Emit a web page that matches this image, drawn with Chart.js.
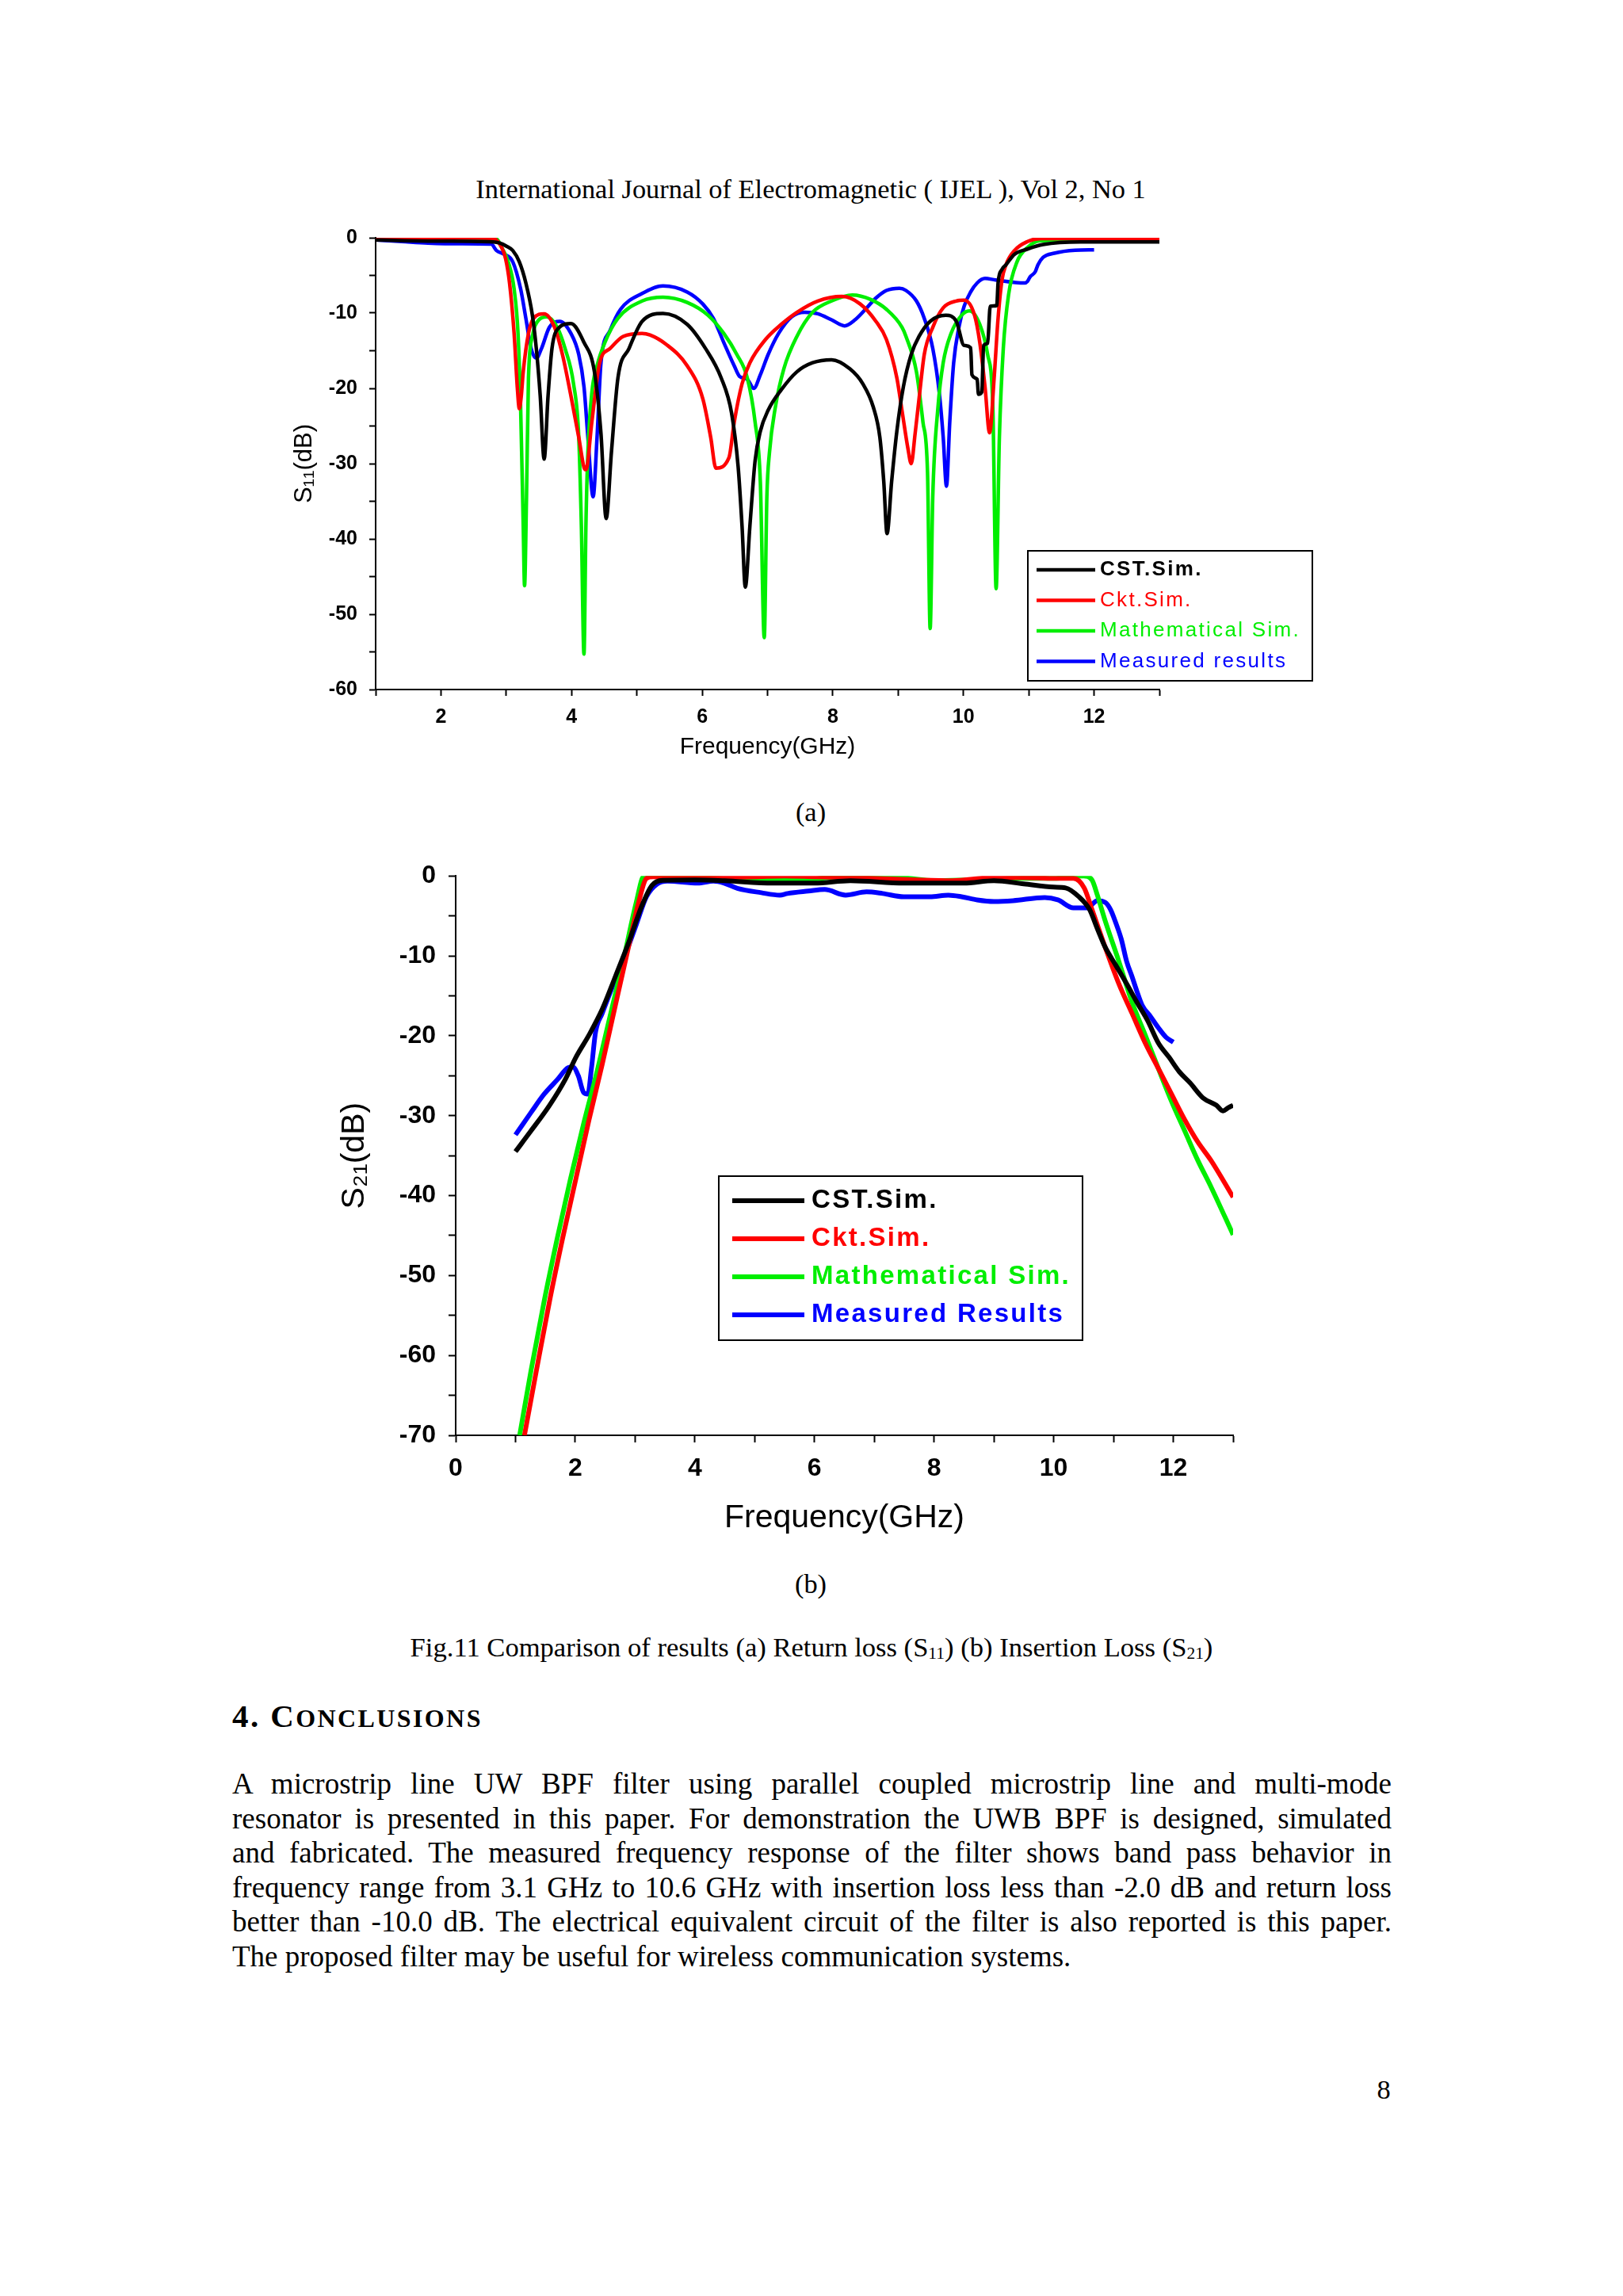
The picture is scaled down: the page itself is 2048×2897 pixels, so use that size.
<!DOCTYPE html>
<html>
<head>
<meta charset="utf-8">
<title>Fig.11 Comparison of results</title>
<script src="https://cdn.jsdelivr.net/npm/chart.js@4.4.1/dist/chart.umd.min.js"></script>
<style>
  html, body { margin: 0; padding: 0; background: #fff; }
  #page { position: relative; width: 2048px; height: 2897px; background: #fff; overflow: hidden; }
  .txt { position: absolute; font-family: 'Liberation Serif', 'Times New Roman', serif; color: #000; white-space: nowrap; line-height: 1; }
  .ctr { transform: translateX(-50%); }
  .line { position: absolute; left: 293px; width: 1463px; font-family: 'Liberation Serif', 'Times New Roman', serif;
          font-size: 37px; line-height: 1; color: #000; text-align: justify; text-align-last: justify; }
  .last { text-align-last: left; }
  .sub { font-size: 0.62em; vertical-align: -0.12em; }
  .plot { position: absolute; }
</style>
</head>
<body>
<div id="page">
  <div class="txt ctr" style="left:1023px; top:221px; font-size:34.4px;">International Journal of Electromagnetic ( IJEL ), Vol 2, No 1</div>

  <div class="plot" style="left:340px; top:270px; width:1340px; height:720px;">
    <canvas id="s11" width="1340" height="720" style="width:1340px; height:720px;"></canvas>
  </div>
  <div class="txt ctr" style="left:1023px; top:1007px; font-size:34.4px;">(a)</div>

  <div class="plot" style="left:400px; top:1070px; width:1200px; height:900px;">
    <canvas id="s21" width="1200" height="900" style="width:1200px; height:900px;"></canvas>
  </div>
  <div class="txt ctr" style="left:1023px; top:1981px; font-size:34.4px;">(b)</div>

  <div class="txt ctr" style="left:1024px; top:2061px; font-size:34.6px;">Fig.11 Comparison of results (a) Return loss (S<span class="sub">11</span>) (b) Insertion Loss (S<span class="sub">21</span>)</div>

  <div class="txt" style="left:293px; top:2145px; font-size:41px; font-weight:bold; letter-spacing:2.4px;">4. C<span style="font-size:32px;">ONCLUSIONS</span></div>

  <div class="line" style="top:2232px;">A microstrip line UW BPF filter using parallel coupled microstrip line and multi-mode</div>
  <div class="line" style="top:2276px;">resonator is presented in this paper. For demonstration the UWB BPF is designed, simulated</div>
  <div class="line" style="top:2319px;">and fabricated. The measured frequency response of the filter shows band pass behavior in</div>
  <div class="line" style="top:2363px;">frequency range from 3.1 GHz to 10.6 GHz with insertion loss less than -2.0 dB and return loss</div>
  <div class="line" style="top:2406px;">better than -10.0 dB. The electrical equivalent circuit of the filter is also reported is this paper.</div>
  <div class="line last" style="top:2450px;">The proposed filter may be useful for wireless communication systems.</div>

  <div class="txt ctr" style="left:1746px; top:2619px; font-size:34.4px;">8</div>
</div>

<script>
// ---- (a) Return loss S11 : frequency (GHz) / level (dB) ----
const s11CstFreq = [1, 2, 2.8, 2.9, 3.0, 3.1, 3.2, 3.3, 3.4, 3.46, 3.52, 3.58, 3.64, 3.7, 3.8, 3.99, 4.19, 4.35, 4.45, 4.53,
  4.61, 4.71, 4.88, 5.08, 5.4, 5.77, 6.05, 6.29, 6.45, 6.55, 6.61, 6.66, 6.73, 6.81, 6.89, 7.01, 7.21, 7.45, 7.69, 7.98,
  8.26, 8.46, 8.62, 8.72, 8.78, 8.83, 8.9, 8.98, 9.08, 9.2, 9.32, 9.49, 9.73, 9.89, 10.01, 10.11, 10.13, 10.21, 10.23,
  10.28, 10.31, 10.37, 10.41, 10.51, 10.53, 10.59, 10.65, 10.78, 10.98, 11.22, 11.79, 13];
const s11CstDb = [-0.3, -0.45, -0.55, -0.7, -1.1, -1.7, -3.2, -6, -10.3, -14.7, -21, -29.4, -21, -14.7, -12, -11.4, -13.9, -17.8, -26, -37.3,
  -28.5, -18.6, -14.7, -11.1, -10.05, -11.5, -14.7, -18.6, -23.3, -30.4, -38.3, -46.4, -38.3, -29.6, -25.7, -22.9, -20.2, -17.8, -16.6, -16.2,
  -17.4, -19.4, -22.5, -26.5, -32.4, -39.3, -32.4, -25.7, -19.8, -15.5, -13.1, -11.1, -10.3, -11.1, -14.3, -14.6, -18.2, -18.8, -20.8,
  -20.5, -14.3, -14.0, -9.1, -9.0, -6, -4.2, -3.6, -2.2, -1.5, -0.9, -0.55, -0.55];

const s11CktFreq = [1, 2, 2.8, 2.93, 2.99, 3.05, 3.12, 3.17, 3.2, 3.23, 3.26, 3.34, 3.42, 3.58, 3.74, 3.86, 3.99, 4.11, 4.19, 4.22,
  4.31, 4.43, 4.59, 4.79, 5.08, 5.2, 5.44, 5.77, 6.01, 6.13, 6.21, 6.41, 6.49, 6.61, 6.73, 6.97, 7.21, 7.45, 7.77, 8.14,
  8.42, 8.66, 8.82, 8.98, 9.06, 9.15, 9.2, 9.26, 9.32, 9.4, 9.53, 9.69, 9.89, 10.01, 10.17, 10.25, 10.33, 10.4, 10.47, 10.53,
  10.59, 10.65, 10.78, 10.98, 11.18, 13];
const s11CktDb = [0, 0, -0.1, -1.3, -2.8, -6, -12.7, -20, -22.7, -21, -17.8, -12.7, -10.7, -10.1, -11.9, -15.5, -21, -26.5, -30.5, -30.8,
  -24.5, -16.6, -14.7, -13.1, -12.7, -12.9, -14.1, -17, -21.4, -26.5, -30.6, -29.2, -24.5, -19.4, -16.6, -13.5, -11.5, -9.9, -8.4, -7.8,
  -8.8, -11.1, -13.5, -18.6, -23, -28, -30, -26, -21.4, -15.5, -11.9, -9.3, -8.4, -8.3, -10.3, -13.9, -19.8, -25.9, -18.6, -10.7,
  -5.6, -3.6, -1.7, -0.5, -0.1, -0.1];

const s11MathFreq = [1, 2, 2.85, 2.93, 3.03, 3.12, 3.18, 3.22, 3.26, 3.28, 3.31, 3.34, 3.4, 3.5, 3.62, 3.78, 3.9, 4.03, 4.11, 4.15,
  4.19, 4.22, 4.25, 4.31, 4.39, 4.51, 4.71, 5.08, 5.4, 5.77, 6.09, 6.33, 6.53, 6.69, 6.81, 6.89, 6.95, 6.99, 7.03, 7.12,
  7.25, 7.45, 7.69, 7.98, 8.3, 8.58, 8.82, 9.06, 9.12, 9.28, 9.38, 9.45, 9.49, 9.53, 9.61, 9.69, 9.81, 9.97, 10.09, 10.25,
  10.37, 10.45, 10.5, 10.55, 10.61, 10.69, 10.82, 10.98, 11.18, 13];
const s11MathDb = [0, 0, -0.15, -1.3, -3.2, -6.8, -12.7, -22.5, -38.3, -46.2, -34.4, -18.6, -13.1, -10.9, -10.5, -11.9, -14.7, -19.4, -26.5, -38.3,
  -55.3, -38, -28.5, -20.6, -17, -13.9, -10.7, -8.4, -7.9, -8.6, -10.3, -12.7, -15.5, -18.6, -24.5, -32.4, -53.1, -34.4, -28.5, -22.5,
  -17.4, -13.1, -9.9, -8.4, -7.6, -8.2, -9.5, -11.9, -13.1, -17.8, -24.5, -31.2, -51.9, -34.4, -22.5, -16.6, -12.7, -10.3, -9.7, -11.5,
  -15.5, -22.5, -46.6, -26.5, -14.7, -7.6, -3.2, -1.3, -0.4, -0.3];

const s11MeasFreq = [1, 1.4, 1.8, 2.3, 2.77, 2.85, 2.97, 3.1, 3.22, 3.3, 3.38, 3.46, 3.54, 3.66, 3.82, 3.99, 4.11, 4.19, 4.25, 4.33,
  4.39, 4.45, 4.59, 4.75, 5.08, 5.4, 5.77, 6.01, 6.17, 6.33, 6.49, 6.57, 6.69, 6.79, 6.89, 7.01, 7.17, 7.37, 7.57, 7.77,
  7.98, 8.18, 8.34, 8.5, 8.66, 8.82, 9.02, 9.12, 9.28, 9.4, 9.53, 9.63, 9.69, 9.74, 9.79, 9.85, 9.93, 10.01, 10.11, 10.21,
  10.33, 10.49, 10.94, 10.98, 11.02, 11.1, 11.14, 11.22, 11.39, 11.71, 12.0];
const s11MeasDb = [-0.3, -0.5, -0.7, -0.8, -0.85, -1.7, -2.2, -3.2, -6.8, -10.7, -14.7, -16, -14.7, -11.9, -11.1, -12.7, -15.5, -19.8, -26.5, -34.4,
  -26.5, -16.6, -12.3, -9.5, -7.4, -6.4, -7.2, -8.8, -10.7, -13.9, -17, -18.4, -18.8, -20, -18.2, -15.5, -12.7, -10.5, -9.9, -10.1,
  -10.9, -11.7, -10.9, -9.5, -8, -7, -6.7, -7, -8.4, -10.7, -14.7, -20.6, -26.5, -33, -24.5, -16.6, -11.9, -9.1, -7.2, -6,
  -5.4, -5.6, -6, -5.8, -5.2, -4.5, -3.6, -2.6, -2.05, -1.65, -1.6];

// ---- (b) Insertion loss S21 ----
const s21CstFreq = [1, 1.26, 1.57, 1.83, 2.01, 2.23, 2.45, 2.67, 2.89, 3.11, 3.28, 3.46, 4, 4.5, 5.3, 6, 6.6, 7.5, 8.5, 9,
  9.5, 10, 10.2, 10.42, 10.6, 10.73, 10.86, 11.04, 11.22, 11.39, 11.57, 11.75, 11.93, 12.1, 12.28, 12.5, 12.72, 12.83, 12.92, 13];
const s21CstDb = [-34.5, -31.9, -28.7, -25.5, -22.7, -19.9, -16.7, -12.6, -8.4, -3.8, -1.2, -0.55, -0.5, -0.6, -0.9, -0.9, -0.6, -0.9, -0.9, -0.6,
  -1.0, -1.4, -1.5, -2.6, -4.2, -6.6, -8.9, -11.2, -13.5, -15.8, -18.1, -20.9, -22.7, -24.5, -25.9, -27.8, -28.7, -29.4, -29.0, -28.7];

const s21CktFreq = [1.15, 1.35, 1.57, 1.79, 2.01, 2.23, 2.45, 2.67, 2.89, 3.06, 3.19, 3.3, 4, 5, 5.5, 6, 7, 7.7, 8.3, 9,
  9.5, 10, 10.33, 10.51, 10.64, 10.86, 11.09, 11.31, 11.53, 11.75, 11.97, 12.19, 12.41, 12.63, 13];
const s21CktDb = [-70, -61.9, -53.2, -45.3, -37.9, -30.5, -23.6, -16.2, -8.9, -3.3, -0.3, -0.1, -0.2, -0.1, 0, -0.1, -0.3, -0.5, -0.6, -0.2,
  -0.2, -0.3, -0.3, -1.5, -4.2, -8.9, -13.5, -17.2, -20.9, -24.1, -27.3, -30.5, -33.3, -35.6, -40.2];

const s21MathFreq = [1.07, 1.26, 1.48, 1.7, 1.92, 2.14, 2.36, 2.58, 2.8, 3.02, 3.15, 3.5, 4, 5, 5.8, 6.3, 7.4, 8, 8.6, 9.5,
  10, 10.5, 10.64, 10.73, 10.86, 11.09, 11.31, 11.53, 11.75, 11.97, 12.19, 12.41, 12.63, 13];
const s21MathDb = [-70, -61.9, -53.2, -45.3, -37.9, -31, -24.6, -17.6, -10.7, -3.3, 0, -0.1, -0.2, -0.5, -0.5, -0.2, -0.2, -0.6, -0.5, -0.3,
  -0.3, 0, -0.5, -2.4, -5.6, -10.7, -15.8, -19.9, -24.1, -28.2, -31.9, -35.6, -38.9, -44.9];

const s21MeasFreq = [1.0, 1.26, 1.48, 1.7, 1.88, 1.96, 2.05, 2.14, 2.21, 2.27, 2.34, 2.45, 2.62, 2.84, 3.02, 3.19, 3.37, 3.54, 4.05, 4.31,
  4.49, 4.71, 5.11, 5.42, 5.55, 5.9, 6.17, 6.52, 6.87, 7.14, 7.49, 7.93, 8.24, 8.46, 8.72, 9.0, 9.32, 9.85, 10.07, 10.33,
  10.56, 10.73, 10.86, 10.95, 11.04, 11.13, 11.22, 11.31, 11.39, 11.48, 11.62, 11.75, 11.88, 12.0];
const s21MeasDb = [-32.4, -29.6, -27.3, -25.5, -24.0, -23.9, -25, -27.1, -27.3, -24.1, -19.5, -17.2, -13.9, -9.8, -6.1, -2.6, -1.0, -0.65, -0.9, -0.65,
  -0.9, -1.55, -2.1, -2.4, -2.2, -1.9, -1.7, -2.4, -2.0, -2.2, -2.6, -2.6, -2.4, -2.6, -3.0, -3.2, -3.1, -2.7, -3.0, -4.0,
  -4.0, -3.1, -3.3, -4.2, -5.9, -7.9, -10.7, -12.6, -14.4, -16.2, -17.6, -19.0, -20.2, -20.8];

// legend texts and tick labels
const s11Names = ['CST.Sim.', 'Ckt.Sim.', 'Mathematical Sim.', 'Measured results'];
const s21Names = ['CST.Sim.', 'Ckt.Sim.', 'Mathematical Sim.', 'Measured Results'];
const freqLabelsA = [2, 4, 6, 8, 10, 12];
const freqLabelsB = [0, 2, 4, 6, 8, 10, 12];
const dbLabelsA = [0, -10, -20, -30, -40, -50, -60];
const dbLabelsB = [0, -10, -20, -30, -40, -50, -60, -70];

const colors = ['#000000', '#ff0000', '#00ee00', '#0000ff'];
const SANS = "'Liberation Sans', Arial, sans-serif";

Chart.defaults.font.family = SANS;
Chart.defaults.color = '#000';

function pts(f, d) {
  return f.map((x, i) => ({ x: x, y: d[i] }));
}

// legend drawn as a framed box (the one in (a) sits partly outside the plot)
const boxLegend = {
  id: 'boxLegend',
  afterDraw(chart, args, o) {
    const ctx = chart.ctx;
    ctx.save();
    ctx.fillStyle = '#fff';
    ctx.fillRect(o.x, o.y, o.w, o.h);
    ctx.lineWidth = 2;
    ctx.strokeStyle = '#000';
    ctx.strokeRect(o.x, o.y, o.w, o.h);
    chart.data.datasets.forEach((ds, i) => {
      const y = o.y + o.first + i * o.gap;
      ctx.strokeStyle = ds.borderColor;
      ctx.lineWidth = o.lineWidth;
      ctx.beginPath();
      ctx.moveTo(o.x + o.lineFrom, y);
      ctx.lineTo(o.x + o.lineTo, y);
      ctx.stroke();
      ctx.font = (o.bold[i] ? 'bold ' : '') + o.size + 'px ' + SANS;
      ctx.letterSpacing = o.spacing + 'px';
      ctx.fillStyle = ds.borderColor;
      ctx.textBaseline = 'middle';
      ctx.textAlign = 'left';
      ctx.fillText(ds.label, o.x + o.textX, y);
    });
    ctx.restore();
  }
};

function makeSets(names, series, width) {
  return series.map((s, i) => ({
    label: names[i],
    data: pts(s[0], s[1]),
    borderColor: colors[i],
    backgroundColor: colors[i],
    borderWidth: width,
    pointRadius: 0,
    cubicInterpolationMode: 'monotone',
    fill: false
  }));
}

function axisGrid(len) {
  return { display: true, drawOnChartArea: false, drawTicks: true, tickLength: len, tickColor: '#000', tickWidth: 2 };
}

// ---------- chart (a) ----------
new Chart(document.getElementById('s11'), {
  type: 'line',
  data: {
    datasets: makeSets(s11Names, [
      [s11CstFreq, s11CstDb], [s11CktFreq, s11CktDb], [s11MathFreq, s11MathDb], [s11MeasFreq, s11MeasDb]
    ], 4.5)
  },
  options: {
    responsive: false,
    animation: false,
    layout: { padding: { left: 0, top: 29, right: 217, bottom: 0 } },
    plugins: {
      legend: { display: false },
      tooltip: { enabled: false },
      boxLegend: { x: 957, y: 425, w: 359, h: 164, first: 24, gap: 38.5, lineFrom: 11, lineTo: 85, textX: 91,
                   lineWidth: 4.5, size: 26, spacing: 2.3, bold: [true, false, false, false] }
    },
    scales: {
      x: {
        type: 'linear', min: 1, max: 13,
        afterFit: s => { s.height = 120; },
        border: { display: true, color: '#000', width: 2 },
        grid: axisGrid(8),
        ticks: { stepSize: 1, autoSkip: false, maxRotation: 0, padding: 12, color: '#000',
                 font: { size: 25, weight: 'bold' },
                 callback: v => freqLabelsA.includes(v) ? String(v) : '' },
        title: { display: true, text: 'Frequency(GHz)', color: '#000', font: { size: 30 }, padding: { top: 0, bottom: 29 } }
      },
      y: {
        type: 'linear', min: -60, max: 0,
        afterFit: s => { s.width = 134; },
        border: { display: true, color: '#000', width: 2 },
        grid: axisGrid(8),
        ticks: { stepSize: 5, autoSkip: false, padding: 15, color: '#000',
                 font: { size: 25, weight: 'bold' },
                 callback: v => dbLabelsA.includes(v) ? String(v) : '' },
        title: { display: true, text: 'S\u2081\u2081(dB)', color: '#000', font: { size: 31 }, padding: { top: 26, bottom: 0 } }
      }
    }
  },
  plugins: [boxLegend]
});

// ---------- chart (b) ----------
new Chart(document.getElementById('s21'), {
  type: 'line',
  data: {
    datasets: makeSets(s21Names, [
      [s21CstFreq, s21CstDb], [s21CktFreq, s21CktDb], [s21MathFreq, s21MathDb], [s21MeasFreq, s21MeasDb]
    ], 6)
  },
  options: {
    responsive: false,
    animation: false,
    layout: { padding: { left: 0, top: 26, right: 44, bottom: 0 } },
    plugins: {
      legend: { display: false },
      tooltip: { enabled: false },
      boxLegend: { x: 507, y: 414, w: 459, h: 207, first: 31, gap: 48, lineFrom: 17, lineTo: 108, textX: 117,
                   lineWidth: 6, size: 33, spacing: 2.3, bold: [true, true, true, true] }
    },
    scales: {
      x: {
        type: 'linear', min: 0, max: 13,
        afterFit: s => { s.height = 159; },
        border: { display: true, color: '#000', width: 2 },
        grid: axisGrid(9),
        ticks: { stepSize: 1, autoSkip: false, maxRotation: 0, padding: 14, color: '#000',
                 font: { size: 32, weight: 'bold' },
                 callback: v => freqLabelsB.includes(v) ? String(v) : '' },
        title: { display: true, text: 'Frequency(GHz)', color: '#000', font: { size: 41 }, padding: { top: 0, bottom: 30 } }
      },
      y: {
        type: 'linear', min: -70, max: 0,
        afterFit: s => { s.width = 175; },
        border: { display: true, color: '#000', width: 2 },
        grid: axisGrid(9),
        ticks: { stepSize: 5, autoSkip: false, padding: 16, color: '#000',
                 font: { size: 32, weight: 'bold' },
                 callback: v => dbLabelsB.includes(v) ? String(v) : '' },
        title: { display: true, text: 'S\u2082\u2081(dB)', color: '#000', font: { size: 41 }, padding: { top: 23, bottom: 0 } }
      }
    }
  },
  plugins: [boxLegend]
});
</script>
</body>
</html>
